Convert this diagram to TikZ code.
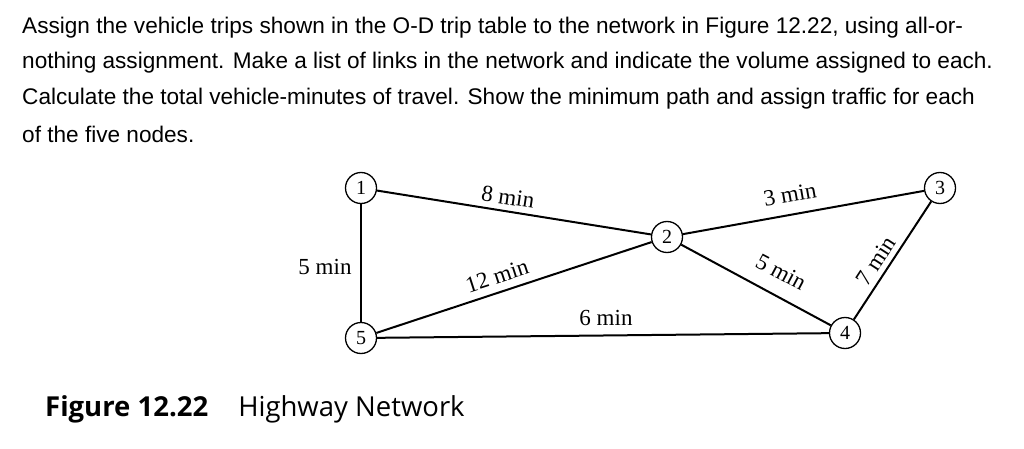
\documentclass[tikz,border=0pt]{standalone}
\usepackage{fontspec}
\setmainfont{Liberation Serif}
\newfontfamily\txtfont{Liberation Sans}
\newfontfamily\capfont{Open Sans}
\begin{document}
\begin{tikzpicture}[x=1pt,y=-1pt,
  nd/.style={circle,draw,line width=1.3pt,minimum size=31pt,inner sep=0pt,font=\fontsize{20}{20}\selectfont,fill=white},
  ed/.style={line width=2pt},
  lbl/.style={font=\fontsize{23}{23}\selectfont,inner sep=1pt},
  para/.style={anchor=west,font=\txtfont\fontsize{22.6}{24}\selectfont,inner sep=0pt}]
\useasboundingbox (0,0) rectangle (1024,449);
\node[para] (t1) at (22,28) {Assign the vehicle trips shown in the O-D trip table to the network in Figure 12.22, using all-or-};
\node[para] (t2) at (22,63) {nothing assignment. Make a list of links in the network and indicate the volume assigned to each.};
\node[para] (t3) at (22,99) {Calculate the total vehicle-minutes of travel. Show the minimum path and assign traffic for each};
\node[para] (t4) at (22,134) {of the five nodes.};
\node (n1) [nd] at (361,188) {1};
\node (n2) [nd] at (667,237) {2};
\node (n3) [nd] at (940,188) {3};
\node (n4) [nd] at (845,333) {4};
\node (n5) [nd] at (361,338) {5};
\draw[ed] (n1) -- (n2);
\draw[ed] (n2) -- (n3);
\draw[ed] (n1) -- (n5);
\draw[ed] (n5) -- (n2);
\draw[ed] (n2) -- (n4);
\draw[ed] (n3) -- (n4);
\draw[ed] (n5) -- (n4);
\node[lbl,rotate=-8.5] (l12) at (508,197) {8 min};
\node[lbl,rotate=10] (l23) at (790,195) {3 min};
\node[lbl] (l15) at (325,267) {5 min};
\node[lbl,rotate=18] (l52) at (497,276) {12 min};
\node[lbl,rotate=-28] (l24) at (781,272) {5 min};
\node[lbl] (l54) at (606,318) {6 min};
\node[lbl,rotate=57] (l34) at (876,261) {7 min};
\node[anchor=west,font=\capfont\fontsize{27.5}{27.5}\selectfont,inner sep=0pt] (cap) at (45,409) {\textbf{Figure 12.22}\hspace{30pt}Highway Network};
\end{tikzpicture}
\end{document}
